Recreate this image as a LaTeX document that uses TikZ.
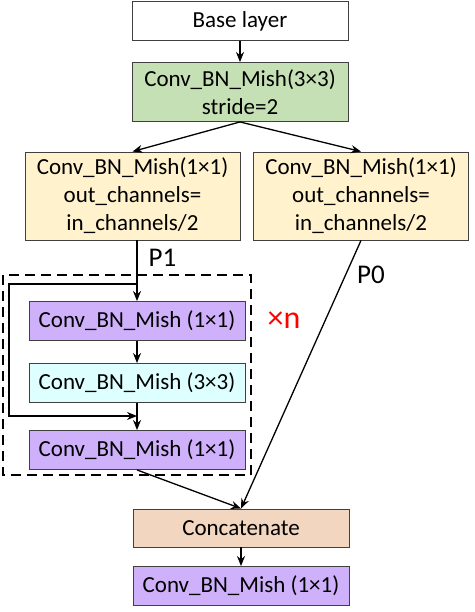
\documentclass[tikz,border=0pt]{standalone}
\usepackage{fontspec}
\setmainfont{Carlito}
\usetikzlibrary{arrows.meta}

\definecolor{stemgreen}{RGB}{197,224,180}
\definecolor{halfyellow}{RGB}{255,242,204}
\definecolor{blockpurple}{RGB}{207,176,250}
\definecolor{blockcyan}{RGB}{222,255,255}
\definecolor{catbrown}{RGB}{242,214,192}

\tikzset{
    layer/.style={draw=black!75, line width=0.9pt, minimum width=216pt, minimum height=39pt,
        align=center, inner sep=2pt, font=\fontsize{23}{28}\selectfont},
    flow/.style={-{Stealth[length=10pt,width=8pt]}, line width=1.3pt},
    path label/.style={font=\fontsize{27}{30}\selectfont, inner sep=2pt}
}

\begin{document}
\begin{tikzpicture}[x=1pt, y=1pt]
    \useasboundingbox (0,0) rectangle (474,-612);

    \node (base) [layer, fill=white] at (240,-21) {Base layer};
    \node (stem) [layer, fill=stemgreen, minimum height=59pt, below of=base, node distance=71pt] {Conv\_BN\_Mish(3×3)\\stride=2};
    \node (half1) [layer, fill=halfyellow, minimum width=215pt, minimum height=88pt] at (132.5,-196) {Conv\_BN\_Mish(1×1)\\out\_channels=\\in\_channels/2};
    \node (half0) [layer, fill=halfyellow, minimum width=215pt, minimum height=88pt] at (361,-196) {Conv\_BN\_Mish(1×1)\\out\_channels=\\in\_channels/2};

    % residual block
    \node (res1) [layer, fill=blockpurple] at (137,-321) {Conv\_BN\_Mish (1×1)};
    \node (res3) [layer, fill=blockcyan, below of=res1, node distance=62pt] {Conv\_BN\_Mish (3×3)};
    \node (trans) [layer, fill=blockpurple, below of=res3, node distance=67pt] {Conv\_BN\_Mish (1×1)};
    \draw[dashed, dash pattern=on 10pt off 6pt, line width=1.3pt] (3,-275) rectangle (251,-475);
    \node (times) [text=red, font=\fontsize{32}{34}\selectfont] at (284,-320) {×n};

    \node (concat) [layer, fill=catbrown, minimum height=38pt] at (241,-528) {Concatenate};
    \node (out) [layer, fill=blockpurple, below of=concat, node distance=58pt] {Conv\_BN\_Mish (1×1)};

    \coordinate (split) at (137,-284);
    \coordinate (merge) at (137,-416);

    \draw[flow] (base) -- (stem);
    \draw[flow] (stem.south) -- (half1.north);
    \draw[flow] (stem.south) -- (half0.north);
    \draw[flow] (res1 |- half1.south) -- node[path label, right, pos=0.28, xshift=9pt] (p1) {P1} (res1.north);
    \draw[flow] (split) -- (9,-284) -- (9,-416) -- (merge);
    \draw[flow] (res1) -- (res3);
    \draw[flow] (res3) -- (trans);
    \draw[flow] (half0.south) -- node[path label, right, pos=0.13, xshift=9pt] (p0) {P0} (concat.north);
    \draw[flow] (trans.south) -- (concat.north);
    \draw[flow] (concat) -- (out);
\end{tikzpicture}
\end{document}
